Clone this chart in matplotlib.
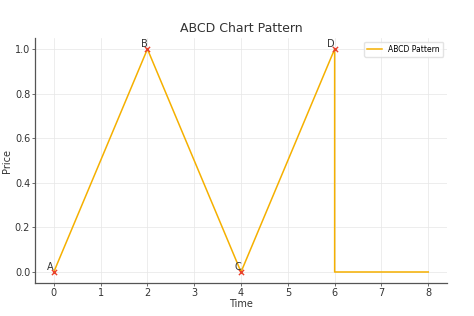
import matplotlib
matplotlib.use("Agg")
import matplotlib.pyplot as plt

time = [0, 2, 4, 6, 6, 8]
price = [0, 1, 0, 1, 0, 0]
point_labels = ["A", "B", "C", "D"]
point_x = [0, 2, 4, 6]
point_y = [0, 1, 0, 1]

fig = plt.figure(figsize=(4.74, 3.16), dpi=100)
ax = fig.add_axes([0.074, 0.104, 0.869, 0.776])

ax.plot(time, price, color="#f5b000", linewidth=1.1, label="ABCD Pattern")
ax.scatter(point_x, point_y, marker="x", color="#e8412c", s=14, linewidths=1.0, zorder=3)
for lab, x, y in zip(point_labels, point_x, point_y):
    ax.text(x, y, lab, ha="right", va="bottom", fontsize=7, color="#333333")

ax.set_title("ABCD Chart Pattern", fontsize=9, color="#333333", pad=4)
ax.set_xlabel("Time", fontsize=7, color="#333333", labelpad=1)
ax.set_ylabel("Price", fontsize=7, color="#333333", labelpad=2)
ax.grid(True, color="#e6e6e6", linestyle="-", linewidth=0.5)
ax.set_axisbelow(True)
for s in ["top", "right"]:
    ax.spines[s].set_visible(False)
for s in ["left", "bottom"]:
    ax.spines[s].set_color("#555555")
    ax.spines[s].set_linewidth(0.9)
ax.tick_params(labelsize=7, colors="#333333", length=2, width=0.6, pad=1.5)
ax.tick_params(axis="both", color="#555555")
ax.legend(fontsize=5.5, loc="upper right", bbox_to_anchor=(1.0, 1.0), frameon=True,
          edgecolor="#dddddd", handlelength=2)

fig.savefig("out.png", dpi=100)
